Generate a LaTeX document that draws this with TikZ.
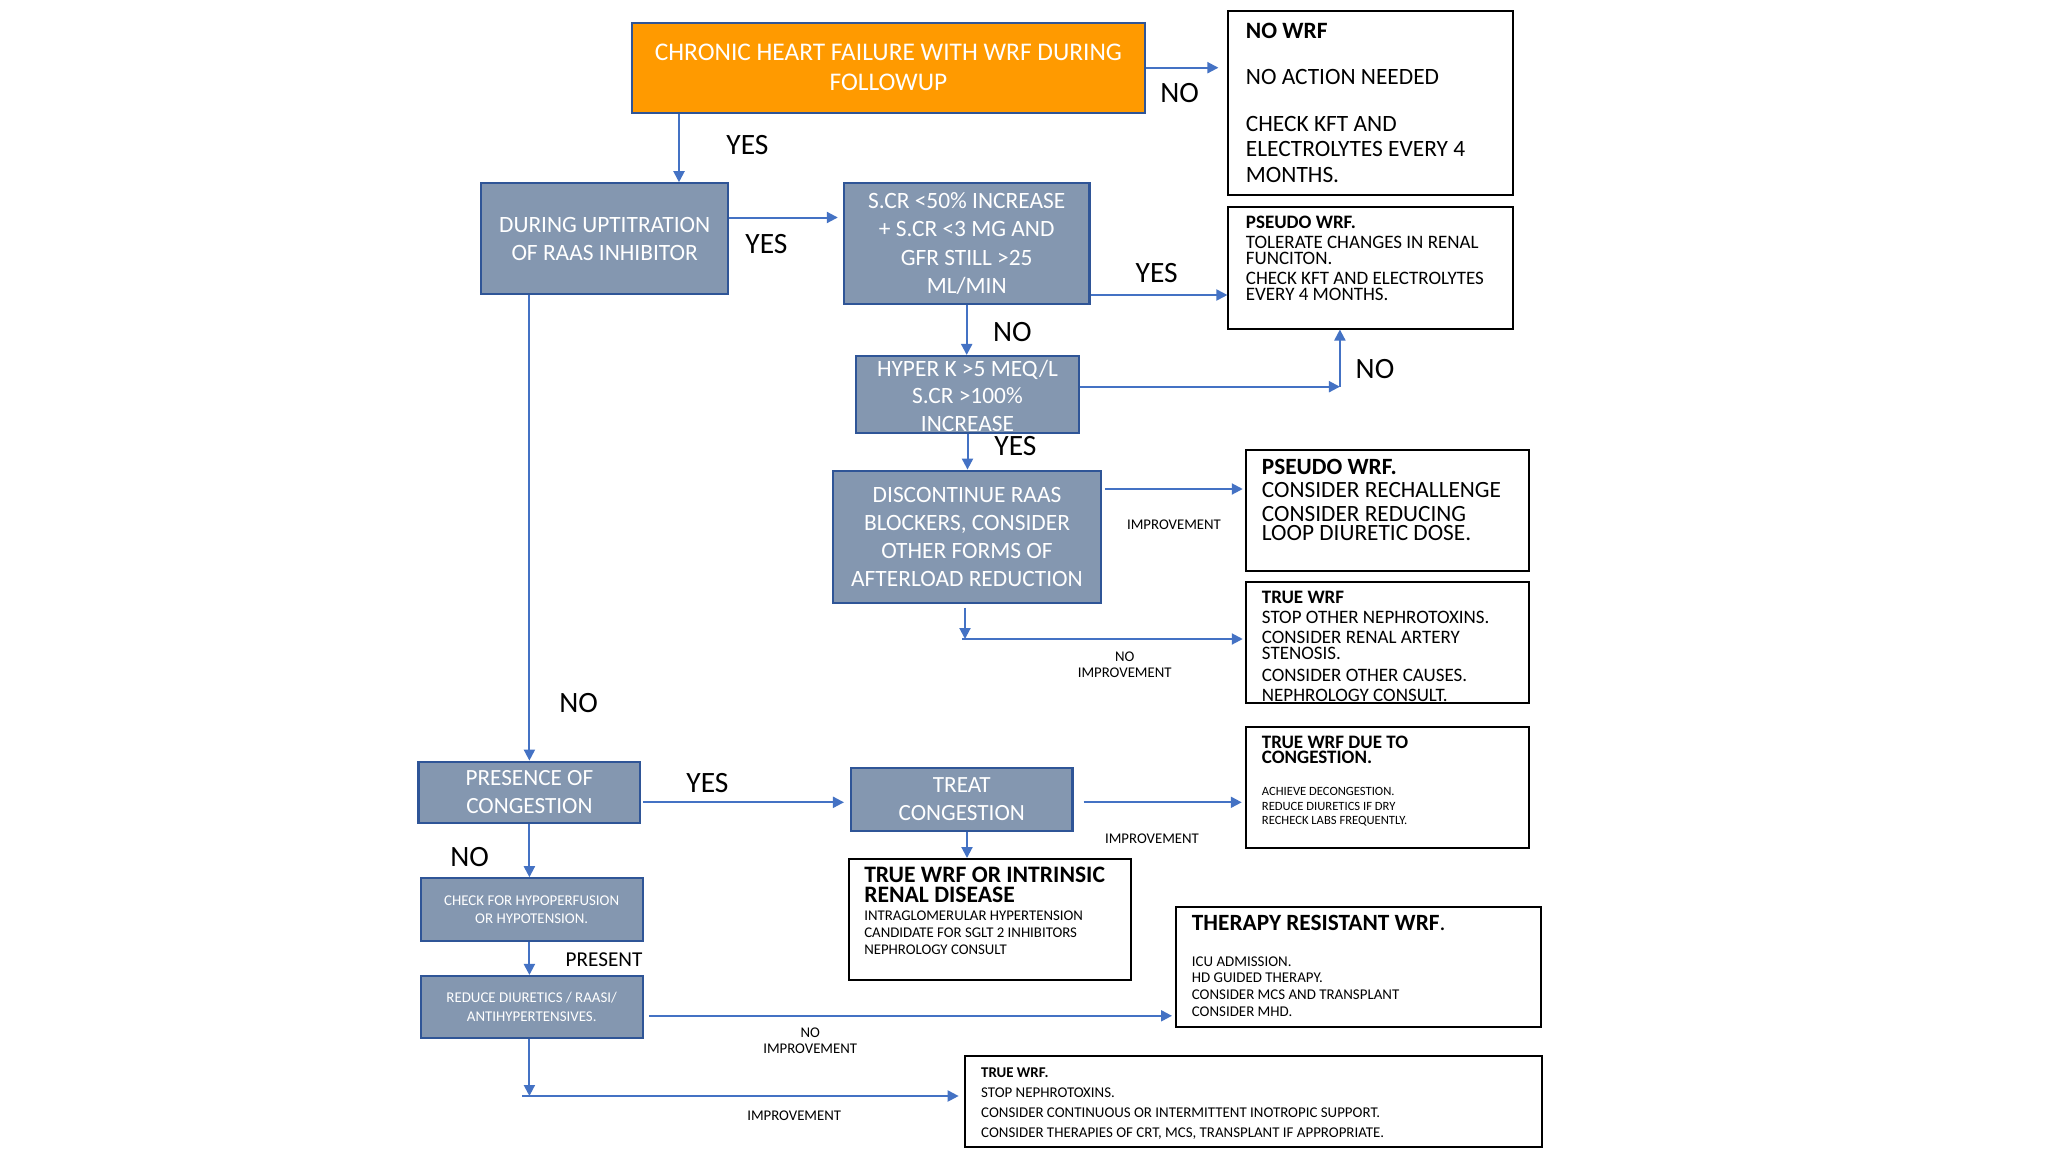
\documentclass[tikz,border=0pt]{standalone}
\usepackage{fontspec}
\setmainfont{Carlito}
\usetikzlibrary{arrows.meta}

\definecolor{hforange}{HTML}{FF9A00}
\definecolor{boxgray}{HTML}{8497B0}
\definecolor{boxedge}{HTML}{2F5597}
\definecolor{flowblue}{HTML}{4472C4}

\newcommand{\setfs}[2]{\fontsize{#1}{#2}\selectfont}

\begin{document}
\begin{tikzpicture}[x=1pt, y=-1pt,
    start/.style = {draw=boxedge, fill=hforange, line width=2pt, text=white, align=center, inner sep=0pt, font=\setfs{25.4}{30}},
    decide/.style = {draw=boxedge, fill=boxgray, line width=2.2pt, text=white, align=center, inner sep=0pt, font=\setfs{23.4}{28}},
    note/.style = {draw=black, line width=2pt, inner sep=0pt},
    notetext/.style = {anchor=north west, inner sep=0pt, align=flush left, text width=265pt},
    answer/.style = {inner sep=0pt, font=\setfs{29.5}{32}},
    outcome/.style = {inner sep=0pt, align=center, font=\setfs{14.8}{16}},
    flow/.style = {draw=flowblue, line width=2pt, -{Triangle[length=11pt, width=11pt]}}]
    \fill[white] (0,0) rectangle (2048,1152);
    \useasboundingbox (0,0) rectangle (2048,1152);

    % decision boxes
    \node[start, minimum width=513.7pt, minimum height=90pt] (chf) at (888.4,67.7) {CHRONIC HEART FAILURE WITH WRF DURING\\FOLLOWUP};
    \node[decide, minimum width=247.3pt, minimum height=111pt] (during) at (604.7,238.8) {DURING UPTITRATION\\OF RAAS INHIBITOR};
    \node[decide, minimum width=245.6pt, minimum height=121.3pt, font=\setfs{23.4}{28.3}] (scr) at (966.7,243.4) {S.CR <50\% INCREASE\\+ S.CR <3 MG AND\\GFR STILL >25\\ML/MIN};
    \node[decide, minimum width=223.1pt, minimum height=76.7pt] (hyper) at (967.5,394.4) {};
    \node[text=white, align=center, inner sep=0pt, font=\setfs{23.4}{27.5}] (hypertext) at ([yshift=-1.4pt]hyper) {HYPER K >5 MEQ/L\\S.CR >100\%\\INCREASE};
    \node[decide, minimum width=267.4pt, minimum height=132.6pt] (disc) at (967,537) {DISCONTINUE RAAS\\BLOCKERS, CONSIDER\\OTHER FORMS OF\\AFTERLOAD REDUCTION};
    \node[decide, minimum width=221.9pt, minimum height=61.6pt, font=\setfs{23.2}{28}] (presence) at (529.4,792.5) {PRESENCE OF\\CONGESTION};
    \node[decide, minimum width=221.5pt, minimum height=62.4pt, font=\setfs{23.2}{28}] (treat) at (961.8,799.5) {TREAT\\CONGESTION};
    \node[decide, minimum width=222pt, minimum height=62.4pt, font=\setfs{14.9}{18.5}] (check) at (531.7,909.5) {CHECK FOR HYPOPERFUSION\\OR HYPOTENSION.};
    \node[decide, minimum width=222pt, minimum height=61.7pt, font=\setfs{14.9}{18.5}] (reduce) at (531.7,1006.9) {REDUCE DIURETICS / RAASI/\\ANTIHYPERTENSIVES.};

    % outcome boxes
    \node[note, minimum width=284.2pt, minimum height=184.3pt] (nowrf) at (1370.5,102.9) {};
    \node[notetext, font=\setfs{23.4}{25.5}] (nowrftext) at (1245.7,22.6) {\textbf{NO WRF}\\[21.2pt]NO ACTION NEEDED\\[21.1pt]CHECK KFT AND\\ELECTROLYTES EVERY 4\\MONTHS.\par};
    \node[note, minimum width=284.2pt, minimum height=121.2pt] (pseudoa) at (1370.5,267.9) {};
    \node[notetext, font=\setfs{19}{16}] (pseudoatext) at (1245.7,215.7) {\textbf{PSEUDO WRF.}\\[4pt]TOLERATE CHANGES IN RENAL\\FUNCITON.\\[4.4pt]CHECK KFT AND ELECTROLYTES\\EVERY 4 MONTHS.\par};
    \node[note, minimum width=283.3pt, minimum height=120.7pt] (pseudob) at (1387.4,510.4) {};
    \node[notetext, font=\setfs{23.3}{19.5}] (pseudobtext) at (1261.7,459.3) {\textbf{PSEUDO WRF.}\\[3.1pt]CONSIDER RECHALLENGE\\[4.5pt]CONSIDER REDUCING\\LOOP DIURETIC DOSE.\par};
    \node[note, minimum width=283.3pt, minimum height=121pt] (truewrf) at (1387.4,642.8) {};
    \node[notetext, font=\setfs{19}{16}] (truewrftext) at (1261.7,590.7) {\textbf{TRUE WRF}\\[4pt]STOP OTHER NEPHROTOXINS.\\[4.6pt]CONSIDER RENAL ARTERY\\STENOSIS.\\[5.7pt]CONSIDER OTHER CAUSES.\\[4pt]NEPHROLOGY CONSULT.\par};
    \node[note, minimum width=283.3pt, minimum height=121.6pt] (congest) at (1387.4,787.5) {};
    \node[notetext] (congesttext) at (1261.7,735.7) {\setfs{19}{15.6}\textbf{TRUE WRF DUE TO\\CONGESTION.}\par\vspace{17.2pt}\setfs{12.6}{14.5}ACHIEVE DECONGESTION.\\REDUCE DIURETICS IF DRY\\RECHECK LABS FREQUENTLY.\par};
    \node[note, minimum width=282.3pt, minimum height=121pt] (intrinsic) at (989.9,919.5) {};
    \node[notetext] (intrinsictext) at (864.1,867.2) {\setfs{23.6}{19.8}\textbf{TRUE WRF OR INTRINSIC\\RENAL DISEASE}\par\vspace{1.3pt}\setfs{14.8}{17}INTRAGLOMERULAR HYPERTENSION\\CANDIDATE FOR SGLT 2 INHIBITORS\\NEPHROLOGY CONSULT\par};
    \node[note, minimum width=365pt, minimum height=120pt] (therapy) at (1358.5,966.7) {};
    \node[notetext, text width=340pt] (therapytext) at (1191.7,914.9) {\setfs{23.3}{25}\textbf{THERAPY RESISTANT WRF}.\par\vspace{19pt}\setfs{14.9}{16.7}ICU ADMISSION.\\HD GUIDED THERAPY.\\CONSIDER MCS AND TRANSPLANT\\CONSIDER MHD.\par};
    \node[note, minimum width=577.1pt, minimum height=90.7pt] (finalwrf) at (1253.2,1101.4) {};
    \node[notetext, text width=550pt, font=\setfs{14.9}{20}] (finalwrftext) at (981,1067.3) {\textbf{TRUE WRF.}\\STOP NEPHROTOXINS.\\CONSIDER CONTINUOUS OR INTERMITTENT INOTROPIC SUPPORT.\\CONSIDER THERAPIES OF CRT, MCS, TRANSPLANT IF APPROPRIATE.\par};

    % branch labels
    \node[answer] (noa) at (1179.7,93.3) {NO};
    \node[answer] (yesa) at (747.4,145) {YES};
    \node[answer] (yesb) at (766.5,244) {YES};
    \node[answer] (yesc) at (1156.7,272.7) {YES};
    \node[answer] (nob) at (1012.4,332.3) {NO};
    \node[answer] (noc) at (1375,369.3) {NO};
    \node[answer] (yesd) at (1015.4,445.7) {YES};
    \node[answer] (nod) at (578.6,702.7) {NO};
    \node[answer] (yese) at (707.4,782.7) {YES};
    \node[answer] (noe) at (469.6,857.3) {NO};
    \node[answer, font=\setfs{21.2}{25}] (present) at (604,959.5) {PRESENT};
    \node[outcome] (impa) at (1174,524.3) {IMPROVEMENT};
    \node[outcome] (noimpa) at (1124.7,664.5) {NO\\IMPROVEMENT};
    \node[outcome] (impb) at (1152,838.5) {IMPROVEMENT};
    \node[outcome] (noimpb) at (810.2,1041) {NO\\IMPROVEMENT};
    \node[outcome] (impc) at (794.2,1115.7) {IMPROVEMENT};

    % connectors
    \coordinate (chfout) at ([xshift=-209.4pt]chf.south);
    \coordinate (durout) at ([yshift=21.3pt]during.east);
    \coordinate (scrout) at ([yshift=-51.6pt]scr.east);
    \coordinate (hypout) at ([yshift=7.7pt]hyper.east);
    \coordinate (bendup) at ([xshift=-30.6pt]pseudoa.south);
    \coordinate (discout) at ([yshift=48pt]disc.east);
    \coordinate (discdown) at ([xshift=-2pt, yshift=-3.4pt]disc.south);
    \coordinate (trueinto) at ([yshift=3.8pt]truewrf.west);
    \coordinate (discturn) at (discdown |- trueinto);
    \coordinate (presout) at ([yshift=-9.8pt]presence.east);
    \coordinate (treatout) at ([yshift=-2.8pt]treat.east);
    \coordinate (treatdown) at ([xshift=5.2pt]treat.south);
    \coordinate (redout) at ([yshift=-8.9pt]reduce.east);
    \coordinate (finalin) at ([yshift=5.4pt]finalwrf.west);
    \coordinate (lowturn) at (presence.south |- finalin);

    \draw[flow, shorten >=9pt] (chf.east) -- (chf.east -| nowrf.west);
    \draw[flow] (chfout) -- (chfout |- during.north);
    \draw[flow, shorten >=5pt] (durout) -- (durout -| scr.west);
    \draw[flow] (scrout) -- (scrout -| pseudoa.west);
    \draw[flow] (scr.south) -- (scr.south |- hyper.north);
    \draw[flow] (hypout) -- (hypout -| bendup);
    \draw[flow] (hypout -| bendup) -- (bendup);
    \draw[flow] (hyper.south) -- (hyper.south |- disc.north);
    \draw[flow, shorten <=3pt, shorten >=2pt] (discout) -- (discout -| pseudob.west);
    \draw[flow] (discdown) -- (discturn);
    \draw[flow, shorten >=2pt] ([xshift=-3pt]discturn) -- (trueinto);
    \draw[flow] (during.south -| presence.north) -- (presence.north);
    \draw[flow, shorten <=2pt, shorten >=6pt] (presout) -- (presout -| treat.west);
    \draw[flow, shorten <=10pt, shorten >=3pt] (treatout) -- (treatout -| congest.west);
    \draw[flow] (treatdown) -- (treatdown |- intrinsic.north);
    \draw[flow] (presence.south) -- (presence.south |- check.north);
    \draw[flow] (presence.south |- check.south) -- (presence.south |- reduce.north);
    \draw[flow, shorten <=5pt, shorten >=3pt] (redout) -- (redout -| therapy.west);
    \draw[flow] (presence.south |- reduce.south) -- (lowturn);
    \draw[flow, shorten >=5pt] ([xshift=-7pt]lowturn) -- (finalin);
\end{tikzpicture}
\end{document}
